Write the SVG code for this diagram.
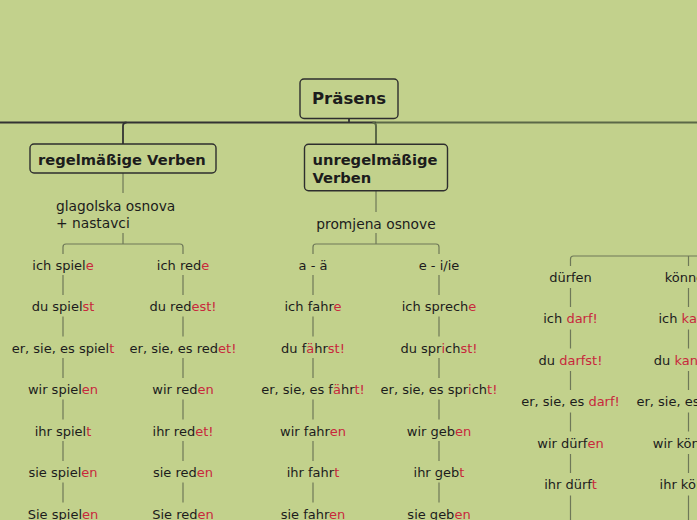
<svg xmlns="http://www.w3.org/2000/svg" width="697" height="520" viewBox="0 0 697 520">
<style>
.bg{fill:#c2d18c}
.box{fill:#c2d18c;stroke:#2e2e2e;stroke-width:1.4}
.t{font-family:"DejaVu Sans","Liberation Sans",sans-serif;fill:#1c1c1c}
.h1{font-size:16.5px;font-weight:bold}
.h2{font-size:14.7px;font-weight:bold}
.m{font-size:13.8px}
.e{font-size:13px;text-anchor:middle}
.r{fill:#c8283c}
.ln{fill:none;stroke:#6e7858;stroke-width:1.2}
.main{fill:none;stroke:#333333;stroke-width:1.8}
.main2{fill:none;stroke:#5b6847;stroke-width:2}
</style>
<rect class="bg" x="0" y="0" width="697" height="520"/>

<g id="connectors">
<path class="main" d="M0 122.5 H376"/>
<path class="main2" d="M376 122.5 H697"/>
<path class="main" d="M349 118 V122.5"/>
<path class="main" d="M123 144 V126 Q123 122.5 126.5 122.5"/>
<path class="main2" d="M376 144 V126 Q376 122.5 372.5 122.5"/>
<path class="ln" d="M123 173 V193"/>
<path class="ln" d="M123 233 V244"/>
<path class="ln" d="M63 254 V247 Q63 244 66 244 H180 Q183 244 183 247 V254"/>
<path class="ln" d="M376 191 V212"/>
<path class="ln" d="M376 233 V244"/>
<path class="ln" d="M313 254 V247 Q313 244 316 244 H436 Q439 244 439 247 V254"/>
<path class="ln" d="M570.5 266 V259 Q570.5 256 573.5 256 H697"/>
<path class="ln" d="M688.5 256 V266"/>
<g id="stems-left">
<path class="ln" d="M63 275 V295 M63 316.5 V336.5 M63 358 V378 M63 399.5 V419.5 M63 441 V461 M63 482.5 V502.5"/>
<path class="ln" d="M183 275 V295 M183 316.5 V336.5 M183 358 V378 M183 399.5 V419.5 M183 441 V461 M183 482.5 V502.5"/>
<path class="ln" d="M313 275 V295 M313 316.5 V336.5 M313 358 V378 M313 399.5 V419.5 M313 441 V461 M313 482.5 V502.5"/>
<path class="ln" d="M439 275 V295 M439 316.5 V336.5 M439 358 V378 M439 399.5 V419.5 M439 441 V461 M439 482.5 V502.5"/>
</g>
<g id="stems-right">
<path class="ln" d="M570.5 288 V307 M570.5 329.5 V348.5 M570.5 371 V390 M570.5 412.5 V431.5 M570.5 454 V473 M570.5 495.5 V520"/>
<path class="ln" d="M688.5 288 V307 M688.5 329.5 V348.5 M688.5 371 V390 M688.5 412.5 V431.5 M688.5 454 V473 M688.5 495.5 V520"/>
</g>
</g>

<g id="praesens">
<rect class="box" x="300" y="79" width="98" height="39.5" rx="4"/>
<text class="t h1" x="349" y="104" text-anchor="middle">Präsens</text>
</g>

<g id="regelmaessige">
<rect class="box" x="30" y="144" width="186" height="29" rx="4"/>
<text class="t h2" x="38" y="165">regelmäßige Verben</text>
</g>

<g id="unregelmaessige">
<rect class="box" x="304.5" y="144.3" width="143" height="46.5" rx="4"/>
<text class="t h2" x="312.5" y="165">unregelmäßige</text>
<text class="t h2" x="312.5" y="182.5">Verben</text>
</g>

<g id="glagolska">
<text class="t m" x="56" y="211">glagolska osnova</text>
<text class="t m" x="56" y="228">+ nastavci</text>
</g>

<g id="promjena">
<text class="t m" x="376" y="228.5" text-anchor="middle">promjena osnove</text>
</g>

<g id="col-spielen">
<text class="t e" x="63" y="269.5">ich spiel<tspan class="r">e</tspan></text>
<text class="t e" x="63" y="311">du spiel<tspan class="r">st</tspan></text>
<text class="t e" x="63" y="352.5">er, sie, es spiel<tspan class="r">t</tspan></text>
<text class="t e" x="63" y="394">wir spiel<tspan class="r">en</tspan></text>
<text class="t e" x="63" y="435.5">ihr spiel<tspan class="r">t</tspan></text>
<text class="t e" x="63" y="477">sie spiel<tspan class="r">en</tspan></text>
<text class="t e" x="63" y="518.5">Sie spiel<tspan class="r">en</tspan></text>
</g>

<g id="col-reden">
<text class="t e" x="183" y="269.5">ich red<tspan class="r">e</tspan></text>
<text class="t e" x="183" y="311">du red<tspan class="r">est!</tspan></text>
<text class="t e" x="183" y="352.5">er, sie, es red<tspan class="r">et!</tspan></text>
<text class="t e" x="183" y="394">wir red<tspan class="r">en</tspan></text>
<text class="t e" x="183" y="435.5">ihr red<tspan class="r">et!</tspan></text>
<text class="t e" x="183" y="477">sie red<tspan class="r">en</tspan></text>
<text class="t e" x="183" y="518.5">Sie red<tspan class="r">en</tspan></text>
</g>

<g id="col-a-ae">
<text class="t e" x="313" y="269.5">a - ä</text>
<text class="t e" x="313" y="311">ich fahr<tspan class="r">e</tspan></text>
<text class="t e" x="313" y="352.5">du f<tspan class="r">ä</tspan>hr<tspan class="r">st!</tspan></text>
<text class="t e" x="313" y="394">er, sie, es f<tspan class="r">ä</tspan>hr<tspan class="r">t!</tspan></text>
<text class="t e" x="313" y="435.5">wir fahr<tspan class="r">en</tspan></text>
<text class="t e" x="313" y="477">ihr fahr<tspan class="r">t</tspan></text>
<text class="t e" x="313" y="518.5">sie fahr<tspan class="r">en</tspan></text>
</g>

<g id="col-e-i">
<text class="t e" x="439" y="269.5">e - i/ie</text>
<text class="t e" x="439" y="311">ich sprech<tspan class="r">e</tspan></text>
<text class="t e" x="439" y="352.5">du spr<tspan class="r">i</tspan>ch<tspan class="r">st!</tspan></text>
<text class="t e" x="439" y="394">er, sie, es spr<tspan class="r">i</tspan>ch<tspan class="r">t!</tspan></text>
<text class="t e" x="439" y="435.5">wir geb<tspan class="r">en</tspan></text>
<text class="t e" x="439" y="477">ihr geb<tspan class="r">t</tspan></text>
<text class="t e" x="439" y="518.5">sie geb<tspan class="r">en</tspan></text>
</g>

<g id="col-duerfen">
<text class="t e" x="570.5" y="281.5">dürfen</text>
<text class="t e" x="570.5" y="323">ich <tspan class="r">darf!</tspan></text>
<text class="t e" x="570.5" y="364.5">du <tspan class="r">darfst!</tspan></text>
<text class="t e" x="570.5" y="406">er, sie, es <tspan class="r">darf!</tspan></text>
<text class="t e" x="570.5" y="447.5">wir dürf<tspan class="r">en</tspan></text>
<text class="t e" x="570.5" y="489">ihr dürf<tspan class="r">t</tspan></text>
</g>

<g id="col-koennen">
<text class="t e" x="688.5" y="281.5">können</text>
<text class="t e" x="688.5" y="323">ich <tspan class="r">kann!</tspan></text>
<text class="t e" x="688.5" y="364.5">du <tspan class="r">kannst!</tspan></text>
<text class="t e" x="688.5" y="406">er, sie, es <tspan class="r">kann!</tspan></text>
<text class="t e" x="688.5" y="447.5">wir könn<tspan class="r">en</tspan></text>
<text class="t e" x="688.5" y="489">ihr könn<tspan class="r">t</tspan></text>
</g>
</svg>
